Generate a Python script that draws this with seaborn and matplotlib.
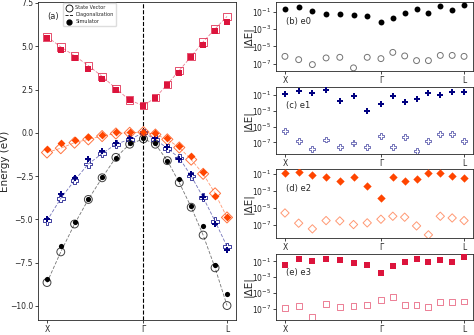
import numpy as np
import pandas as pd
import matplotlib
matplotlib.use("Agg")
import matplotlib.pyplot as plt
import seaborn as sns
from matplotlib.lines import Line2D
from matplotlib.ticker import MultipleLocator, FixedLocator, NullLocator

# ---------------- data ----------------
kpath = list(np.linspace(0, 1, 8)) + list(np.linspace(1, 1 + np.sqrt(3) / 2, 8)[1:])
tick_pos = [0, 1, 1 + np.sqrt(3) / 2]
tick_labels = ["X", "Γ", "L"]
band_names = ["e0", "e1", "e2", "e3"]
band_colors = ["black", "#000080", "#FF4500", "#DC143C"]
band_markers = ["o", "P", "D", "s"]

# State vector (open markers, also used for the diagonalization line)
sv_e0 = [-8.65, -6.88, -5.27, -3.85, -2.60, -1.42, -0.66, -0.35, -0.66, -1.61, -2.88, -4.30, -5.91, -7.80, -9.98]
sv_e1 = [-5.08, -3.79, -2.75, -1.80, -1.20, -0.66, -0.38, 0.00, -0.38, -0.90, -1.45, -2.50, -3.73, -5.11, -6.57]
sv_e2 = [-1.14, -0.89, -0.57, -0.38, -0.19, -0.04, 0.00, 0.04, -0.10, -0.38, -0.85, -1.55, -2.37, -3.50, -4.89]
sv_e3 = [5.55, 4.96, 4.45, 3.88, 3.26, 2.56, 1.88, 1.57, 2.03, 2.80, 3.60, 4.41, 5.25, 6.00, 6.72]

# Simulator (filled markers)
sim_e0 = [-8.43, -6.53, -5.15, -3.81, -2.56, -1.44, -0.59, -0.32, -0.60, -1.61, -2.69, -4.22, -5.40, -7.61, -9.34]
sim_e1 = [-4.96, -3.54, -2.61, -1.52, -1.08, -0.59, -0.30, -0.02, -0.32, -0.85, -1.50, -2.40, -3.73, -5.28, -6.78]
sim_e2 = [-0.95, -0.60, -0.44, -0.25, -0.10, 0.04, 0.04, 0.02, 0.00, -0.28, -0.76, -1.35, -2.25, -3.64, -4.89]
sim_e3 = [5.49, 4.77, 4.32, 3.67, 3.09, 2.50, 1.88, 1.55, 1.99, 2.77, 3.47, 4.38, 5.09, 5.89, 6.38]

# |dE| errors (log10), simulator and state vector
err_sim_e0 = [-0.69, -0.50, -0.92, -1.30, -1.23, -1.41, -1.46, -2.15, -1.69, -1.18, -0.72, -1.11, -0.35, -0.77, -0.23]
err_sv_e0 = [-6.16, -6.54, -7.11, -6.34, -6.27, -7.49, -6.27, -6.42, -5.70, -6.11, -6.65, -6.65, -6.05, -6.05, -6.16]
err_sim_e1 = [-0.84, -0.52, -0.81, -0.40, -1.72, -1.17, -3.04, -2.13, -1.12, -1.92, -1.53, -0.76, -1.08, -0.69, -0.60]
err_sv_e1 = [-5.53, -6.88, -7.84, -6.64, -7.57, -7.09, -7.60, -6.16, -7.60, -6.33, -8.08, -6.85, -5.92, -5.92, -6.88]
err_sim_e2 = [-0.88, -0.76, -1.08, -1.35, -1.86, -1.35, -2.45, -3.86, -1.39, -1.86, -1.55, -0.92, -0.92, -1.27, -1.47]
err_sv_e2 = [-5.59, -6.80, -7.47, -6.49, -6.53, -6.96, -6.76, -6.33, -5.98, -6.09, -7.12, -8.18, -5.98, -6.18, -6.49]
err_sim_e3 = [-1.48, -0.69, -0.96, -0.76, -0.88, -1.17, -1.41, -2.52, -1.60, -1.08, -0.72, -1.12, -0.88, -1.05, -0.45]
err_sv_e3 = [-6.88, -6.61, -8.05, -6.45, -6.76, -6.69, -6.57, -5.85, -5.49, -6.49, -6.57, -6.76, -6.16, -6.16, -6.09]

sv = [sv_e0, sv_e1, sv_e2, sv_e3]
sim = [sim_e0, sim_e1, sim_e2, sim_e3]
err_sim = [err_sim_e0, err_sim_e1, err_sim_e2, err_sim_e3]
err_sv = [err_sv_e0, err_sv_e1, err_sv_e2, err_sv_e3]

# ---------------- plot ----------------
sns.set_style("ticks")
plt.rcParams["font.family"] = ["DejaVu Sans"]
fig = plt.figure(figsize=(4.74, 3.35), dpi=100)

ax = fig.add_axes([38 / 474, 1 - 320 / 335, (236 - 38) / 474, (320 - 2) / 335])
open_sizes = [32, 32, 32, 30]
fill_sizes = [14, 22, 16, 14]
for i in range(4):
    c = band_colors[i]
    df = pd.DataFrame({"k": kpath, "sv": sv[i], "sim": sim[i]})
    sns.lineplot(data=df, x="k", y="sv", ax=ax, color=c, alpha=0.55, lw=0.6,
                 linestyle=(0, (4, 2)), zorder=1)
    sns.scatterplot(data=df, x="k", y="sv", ax=ax, marker=band_markers[i], s=open_sizes[i],
                    fc="none", ec=c, linewidth=0.7, alpha=0.75, zorder=2)
    sns.scatterplot(data=df, x="k", y="sim", ax=ax, marker=band_markers[i], s=fill_sizes[i],
                    color=c, linewidth=0, zorder=3)
ax.axvline(tick_pos[1], color="black", ls="--", lw=0.8, zorder=0)
ax.set_xticks(tick_pos)
ax.set_xticklabels(tick_labels)
ax.yaxis.set_major_locator(MultipleLocator(2.5))
ax.set_xlabel("")
ax.set_ylabel("Energy (eV)", fontsize=7.5, labelpad=0)
ax.tick_params(labelsize=5.5, length=2.5, width=0.6, pad=1)
for sp in ax.spines.values():
    sp.set_linewidth(0.6)
ax.text(0.045, 0.955, "(a)", transform=ax.transAxes, fontsize=6, va="center")
handles = [
    Line2D([], [], marker="o", ls="", mfc="none", mec="black", ms=5, mew=0.6),
    Line2D([], [], color="black", ls="--", lw=0.6),
    Line2D([], [], marker="o", ls="", color="black", ms=3.5),
]
ax.legend(handles, ["State Vector", "Diagonalization", "Simulator"], loc="upper left",
          bbox_to_anchor=(0.12, 1.0), fontsize=3.5, frameon=True, handlelength=1.6,
          borderpad=0.4, labelspacing=0.4, handletextpad=0.5, framealpha=1,
          edgecolor="#dddddd", borderaxespad=0.3)

panel_y = [(2, 71), (87, 154), (169, 238), (254, 320)]
letters = ["b", "c", "d", "e"]
for i in range(4):
    y0, y1 = panel_y[i]
    a = fig.add_axes([276 / 474, 1 - y1 / 335, (473 - 276) / 474, (y1 - y0) / 335])
    c = band_colors[i]
    df = pd.DataFrame({"k": kpath, "sim": 10 ** np.array(err_sim[i]), "sv": 10 ** np.array(err_sv[i])})
    sns.scatterplot(data=df, x="k", y="sim", ax=a, marker=band_markers[i], s=18,
                    color=c, linewidth=0, zorder=3)
    sns.scatterplot(data=df, x="k", y="sv", ax=a, marker=band_markers[i], s=18,
                    fc="none", ec=c, linewidth=0.7, alpha=0.55, zorder=2)
    a.set_yscale("log")
    a.yaxis.set_major_locator(FixedLocator([1e-1, 1e-3, 1e-5, 1e-7]))
    a.yaxis.set_minor_locator(NullLocator())
    a.set_xticks(tick_pos)
    a.set_xticklabels(tick_labels)
    a.set_xlabel("")
    a.set_ylabel("|ΔE|", fontsize=7.5, labelpad=-1)
    a.tick_params(labelsize=5.5, length=2.5, width=0.6, pad=1)
    for sp in a.spines.values():
        sp.set_linewidth(0.6)
    a.text(0.05, 0.72, f"({letters[i]}) {band_names[i]}", transform=a.transAxes,
           fontsize=6, va="center")

fig.savefig("out.png", dpi=100)
